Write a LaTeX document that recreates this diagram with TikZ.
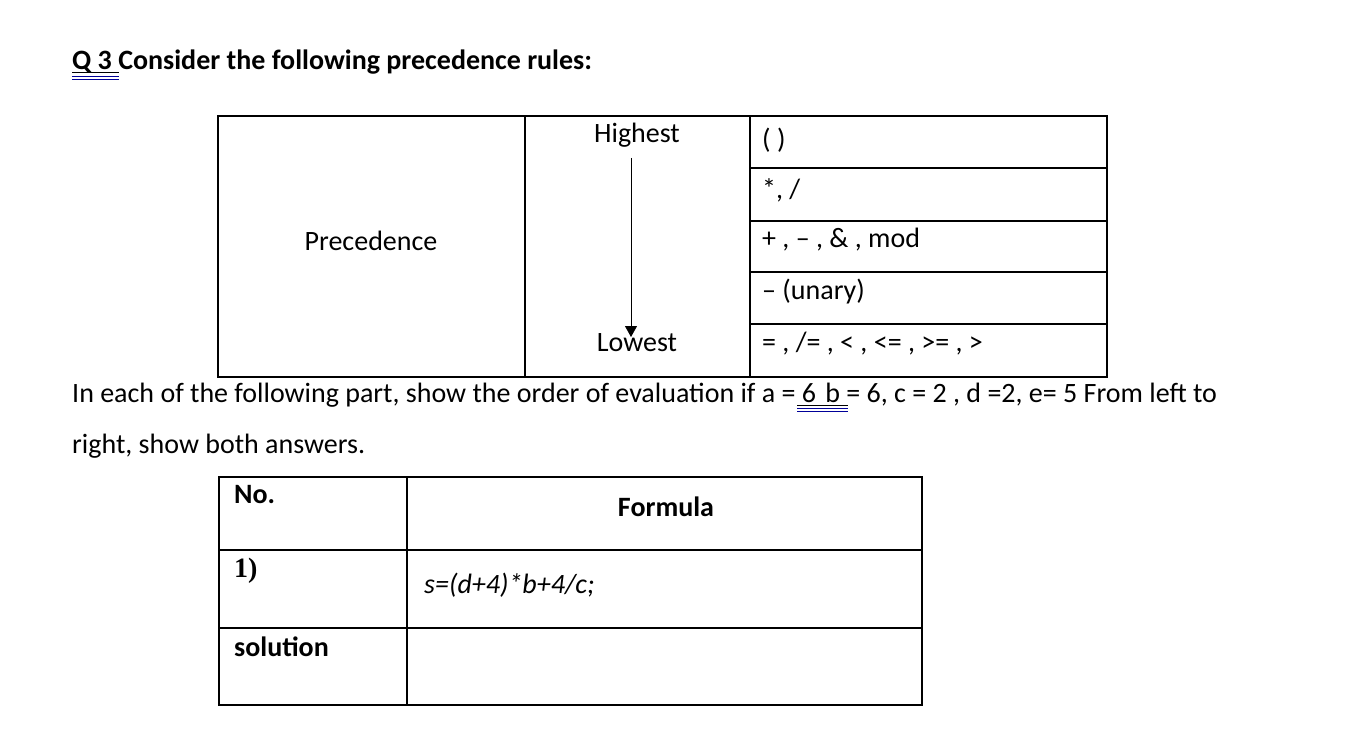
\documentclass[tikz,border=0pt]{standalone}
\usepackage{fontspec}
\setmainfont{Carlito}
\newfontfamily\tnr{Liberation Serif}
\usetikzlibrary{arrows.meta}
\begin{document}
\begin{tikzpicture}[x=1pt,y=-1pt,
  txt/.style={inner sep=0pt,font=\fontsize{28}{32}\selectfont},
  ltxt/.style={txt,anchor=west},
  grid/.style={line width=1.4pt,black},
  spell/.style={line width=0.8pt,color=blue!60!black}]
\useasboundingbox (0,0) rectangle (1366,754);
% title
\node[ltxt,font=\fontsize{28}{32}\selectfont\bfseries] (title) at (72,62) {Q 3 Consider the following precedence rules:};
\draw[line width=1pt] (72,73) -- (119,73);
\draw[spell] (72,76) -- (119,76) (72,79) -- (119,79);
% table 1
\draw[grid] (218,116) rectangle (1107,377);
\draw[grid] (525,116) -- (525,377) (750,116) -- (750,377);
\draw[grid] (750,168) -- (1107,168) (750,221) -- (1107,221) (750,272) -- (1107,272) (750,324) -- (1107,324);
\node[txt] (prec) at (371,241) {Precedence};
\node[txt] (hi) at (637,135) {Highest};
\node[txt] (lo) at (637,343) {Lowest};
\coordinate (as) at (631,158);
\coordinate (ae) at (631,337);
\draw[line width=0.8pt,-{Triangle[length=11pt,width=12pt]}] (as) -- (ae);
\node[ltxt] (r1) at (762,140) {( )};
\node[ltxt] (r2) at (762,190) {*, /};
\node[ltxt] (r3) at (762,240) {+ , -- , \& , mod};
\node[ltxt] (r4) at (762,292) {-- (unary)};
\node[ltxt] (r5) at (762,344) {= , /= , < , <= , >= , >};
% text
\node[ltxt] (l1) at (72,395) {In each of the following part, show the order of evaluation if a = 6\,\,b = 6, c = 2 , d =2, e= 5 From left to};
\draw[line width=1pt] (797,405) -- (848,405);
\draw[spell] (797,408) -- (848,408) (797,411) -- (848,411);
\node[ltxt] (l2) at (72,446) {right, show both answers.};
% table 2
\draw[grid] (219,477) rectangle (922,705);
\draw[grid] (407,477) -- (407,705) (219,550) -- (922,550) (219,628) -- (922,628);
\node[ltxt,font=\fontsize{28}{32}\selectfont\bfseries] (no) at (234,495) {No.};
\node[txt,font=\fontsize{28}{32}\selectfont\bfseries] (form) at (666,507) {Formula};
\node[ltxt,font=\fontsize{28}{32}\selectfont\tnr\bfseries] (one) at (234,571) {1)};
\node[ltxt,font=\fontsize{28}{32}\selectfont\itshape] (f) at (424,585) {s=(d+4)*b+4/c;};
\node[ltxt,font=\fontsize{28}{32}\selectfont\bfseries] (sol) at (234,647) {solution};
\end{tikzpicture}
\end{document}
